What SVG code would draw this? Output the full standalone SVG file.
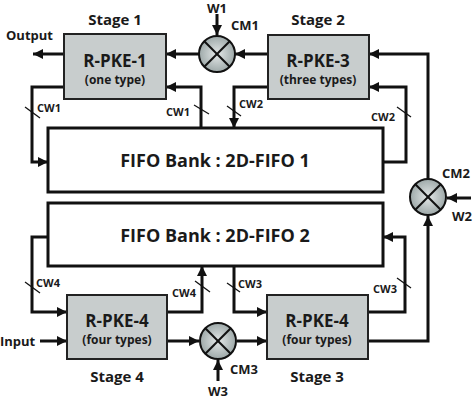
<svg xmlns="http://www.w3.org/2000/svg" width="474" height="401" viewBox="0 0 474 401">
<defs>
<marker id="ah" markerUnits="userSpaceOnUse" markerWidth="10" markerHeight="10" refX="10" refY="5" orient="auto"><path d="M0,0 L10,5 L0,10 z" fill="#111"/></marker>
<radialGradient id="cg" cx="50%" cy="50%" r="50%"><stop offset="0" stop-color="#e4e8e8"/><stop offset="1" stop-color="#9ea9a9"/></radialGradient>
<style>
.box{fill:#c8cdcd;stroke:#222;stroke-width:2}
.fifo{fill:#fff;stroke:#111;stroke-width:3}
.c{fill:none;stroke:#111;stroke-width:3}
.ca{fill:none;stroke:#111;stroke-width:3;marker-end:url(#ah)}
.sl{stroke:#111;stroke-width:1.3}
.mix{fill:url(#cg);stroke:#111;stroke-width:2}
.x{stroke:#111;stroke-width:2}
text{font-family:"Open Sans","Liberation Sans",sans-serif;font-weight:bold;fill:#1a1a1a}
.t1{font-size:17px;text-anchor:middle}
.t2{font-size:12px;text-anchor:middle}
.st{font-size:15px;text-anchor:middle}
.f{font-size:18px;text-anchor:middle}
.cw{font-size:11px}
.lb{font-size:13px}
</style>
</defs>
<g id="connectors">
<path class="ca" d="M268,54 L235,54"/>
<path class="ca" d="M199,54 L166,54"/>
<path class="ca" d="M64,54 L33,54"/>
<path class="ca" d="M64,87 L32,87 L32,162 L48,162"/>
<path class="ca" d="M201,128 L201,87 L166,87"/>
<path class="ca" d="M268,87 L234,87 L234,128"/>
<path class="ca" d="M383,162 L406,162 L406,87 L369,87"/>
<path class="ca" d="M428,179 L428,54 L369,54"/>
<path class="ca" d="M368,341 L428,341 L428,216"/>
<path class="ca" d="M471,198 L447,198"/>
<path class="ca" d="M368,312 L405,312 L405,237 L383,237"/>
<path class="ca" d="M234,266 L234,312 L267,312"/>
<path class="ca" d="M167,312 L202,312 L202,266"/>
<path class="ca" d="M48,237 L32,237 L32,312 L67,312"/>
<path class="ca" d="M40,341 L67,341"/>
<path class="ca" d="M167,341 L199,341"/>
<path class="ca" d="M237,341 L267,341"/>
<path class="ca" d="M218,381 L218,360"/>
<path class="ca" d="M217,14 L217,35"/>
<line class="sl" x1="25" y1="107" x2="40" y2="118"/>
<line class="sl" x1="194" y1="105" x2="209" y2="114"/>
<line class="sl" x1="227" y1="106" x2="241" y2="116"/>
<line class="sl" x1="397" y1="107" x2="411" y2="117"/>
<line class="sl" x1="397" y1="278" x2="411" y2="288"/>
<line class="sl" x1="227" y1="283" x2="240" y2="292"/>
<line class="sl" x1="195" y1="281" x2="210" y2="292"/>
<line class="sl" x1="25" y1="282" x2="40" y2="293"/>
</g>
<g id="stage1">
<rect class="box" x="64" y="34" width="102" height="65"/>
<text class="t1" x="115" y="67">R-PKE-1</text>
<text class="t2" x="115" y="84">(one type)</text>
<text class="st" x="115" y="25">Stage 1</text>
</g>
<g id="stage2">
<rect class="box" x="268" y="35" width="101" height="64"/>
<text class="t1" x="318" y="67">R-PKE-3</text>
<text class="t2" x="318" y="84">(three types)</text>
<text class="st" x="318" y="25">Stage 2</text>
</g>
<g id="stage4">
<rect class="box" x="67" y="295" width="100" height="64"/>
<text class="t1" x="117" y="327">R-PKE-4</text>
<text class="t2" x="117" y="344">(four types)</text>
<text class="st" x="117" y="382">Stage 4</text>
</g>
<g id="stage3">
<rect class="box" x="267" y="295" width="101" height="64"/>
<text class="t1" x="317" y="327">R-PKE-4</text>
<text class="t2" x="317" y="344">(four types)</text>
<text class="st" x="317" y="382">Stage 3</text>
</g>
<g id="fifo1">
<rect class="fifo" x="48" y="128" width="335" height="64"/>
<text class="f" x="215" y="167">FIFO Bank : 2D-FIFO 1</text>
</g>
<g id="fifo2">
<rect class="fifo" x="48" y="203" width="335" height="63"/>
<text class="f" x="215" y="242">FIFO Bank : 2D-FIFO 2</text>
</g>
<g id="cm1">
<circle class="mix" cx="217" cy="54" r="18"/>
<line class="x" x1="204.3" y1="41.3" x2="229.7" y2="66.7"/>
<line class="x" x1="229.7" y1="41.3" x2="204.3" y2="66.7"/>
<text class="lb" x="231" y="30">CM1</text>
<text class="lb" x="217" y="13" text-anchor="middle">W1</text>
</g>
<g id="cm2">
<circle class="mix" cx="428" cy="197" r="18"/>
<line class="x" x1="415.3" y1="184.3" x2="440.7" y2="209.7"/>
<line class="x" x1="440.7" y1="184.3" x2="415.3" y2="209.7"/>
<text class="lb" x="442" y="178">CM2</text>
<text class="lb" x="452" y="221">W2</text>
</g>
<g id="cm3">
<circle class="mix" cx="218" cy="341" r="18"/>
<line class="x" x1="205.3" y1="328.3" x2="230.7" y2="353.7"/>
<line class="x" x1="230.7" y1="328.3" x2="205.3" y2="353.7"/>
<text class="lb" x="230" y="374">CM3</text>
<text class="lb" x="218" y="396" text-anchor="middle">W3</text>
</g>
<g id="labels">
<text class="lb" x="6" y="40">Output</text>
<text class="lb" x="0" y="346">Input</text>
<text class="cw" x="37" y="112">CW1</text>
<text class="cw" x="166" y="116">CW1</text>
<text class="cw" x="239" y="108">CW2</text>
<text class="cw" x="371" y="121">CW2</text>
<text class="cw" x="373" y="293">CW3</text>
<text class="cw" x="238" y="288">CW3</text>
<text class="cw" x="172" y="297">CW4</text>
<text class="cw" x="36" y="287">CW4</text>
</g>
</svg>
